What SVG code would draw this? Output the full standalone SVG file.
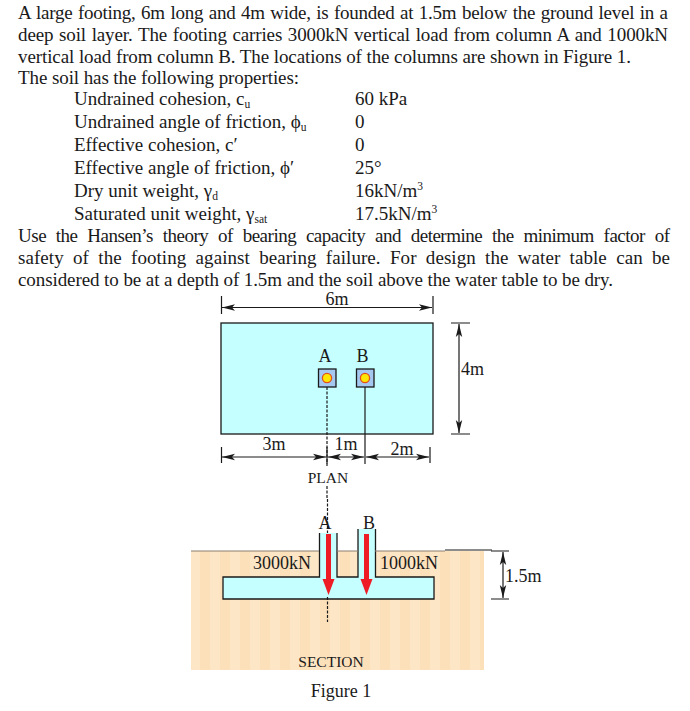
<svg xmlns="http://www.w3.org/2000/svg" width="690" height="711" viewBox="0 0 690 711">
<style>
text{font-family:"Liberation Serif","Times New Roman",serif;fill:#1a1a1a}
.b{font-size:19px}
.d{font-size:18px}
.s{font-size:15.5px}
.sub{font-size:11.500px}
.l{stroke:#1a1a1a;stroke-width:1.2;fill:none}
.o{stroke:#1a1a1a;stroke-width:1.3}
</style>
<defs>
<marker id="ah" markerUnits="userSpaceOnUse" markerWidth="14" markerHeight="8" refX="13" refY="4" orient="auto-start-reverse"><path d="M0 0.8L13 4L0 7.2L3 4Z" fill="#1a1a1a"/></marker>
<pattern id="soil" width="20" height="10" patternUnits="userSpaceOnUse"><rect width="20" height="10" fill="#fde6c6"/><rect width="10" height="10" fill="#fce0ba"/></pattern>
</defs>
<g id="problem-text" class="b">
<text x="18" y="19" word-spacing="1" textLength="650" lengthAdjust="spacing">A large footing, 6m long and 4m wide, is founded at 1.5m below the ground level in a</text>
<text x="18" y="41" word-spacing="1" textLength="650" lengthAdjust="spacing">deep soil layer. The footing carries 3000kN vertical load from column A and 1000kN</text>
<text x="18" y="63" textLength="613" lengthAdjust="spacing">vertical load from column B. The locations of the columns are shown in Figure 1.</text>
<text x="18" y="84" textLength="281" lengthAdjust="spacing">The soil has the following properties:</text>
<text x="18" y="242" word-spacing="5.500" textLength="652" lengthAdjust="spacing">Use the Hansen’s theory of bearing capacity and determine the minimum factor of</text>
<text x="18" y="264" word-spacing="4.500" textLength="652" lengthAdjust="spacing">safety of the footing against bearing failure. For design the water table can be</text>
<text x="18" y="286" textLength="595" lengthAdjust="spacing">considered to be at a depth of 1.5m and the soil above the water table to be dry.</text>
</g>
<g id="properties" class="b">
<text x="74" y="105">Undrained cohesion, c<tspan class="sub" dy="3">u</tspan></text>
<text x="74" y="128">Undrained angle of friction, ϕ<tspan class="sub" dy="3">u</tspan></text>
<text x="74" y="151">Effective cohesion, c′</text>
<text x="74" y="174">Effective angle of friction, ϕ′</text>
<text x="74" y="197">Dry unit weight, γ<tspan class="sub" dy="3">d</tspan></text>
<text x="74" y="220">Saturated unit weight, γ<tspan class="sub" dy="3">sat</tspan></text>
<text x="355" y="105">60 kPa</text>
<text x="355" y="128">0</text>
<text x="355" y="151">0</text>
<text x="355" y="174">25°</text>
<text x="355" y="197">16kN/m<tspan class="sub" dy="-7">3</tspan></text>
<text x="355" y="220">17.5kN/m<tspan class="sub" dy="-7">3</tspan></text>
</g>
<g id="plan-footing"><rect x="221" y="323" width="212" height="111" fill="#c6ffff" stroke="#1a1a1a" stroke-width="1.3"/></g>
<g id="column-a-plan">
<rect x="318.500" y="369" width="17.500" height="18" fill="#a5c8f0" stroke="#1a1a1a" stroke-width="1.3"/>
<circle cx="327" cy="378" r="4.600" fill="#ffe600" stroke="#e2501c" stroke-width="1.300"/>
<text class="d" x="325" y="362" text-anchor="middle">A</text>
</g>
<g id="column-b-plan">
<rect x="356.500" y="369" width="17.500" height="18" fill="#a5c8f0" stroke="#1a1a1a" stroke-width="1.3"/>
<circle cx="365" cy="378" r="4.600" fill="#ffe600" stroke="#e2501c" stroke-width="1.300"/>
<text class="d" x="362.500" y="362" text-anchor="middle">B</text>
</g>
<g id="section-soil"><rect x="191" y="551" width="293" height="119" fill="url(#soil)"/></g>
<g id="section-footing">
<path d="M223 577H319.500V533H337V577H358V529H375.500V577H434V599H223Z" fill="#c6ffff"/>
<path class="o" fill="none" d="M319.500 533V577H223V599H434V577H375.500V529M358 529V577H337V533"/>
</g>
<g id="connectors">
<path class="l" stroke-dasharray="3 1.500" d="M327 387V466M327 486V499M327.500 499V533M327.500 597V622"/>
<path class="l" d="M365 387V464"/>
<path stroke="#8a7f70" stroke-width="1" d="M191 551H319M337 551H358M375 551H445"/>
<path stroke="#1a1a1a" stroke-width="1.200" d="M445 550H492"/>
<path class="l" d="M221.500 296V314M433 296V314M221.500 447V463M430 447V463M327 447V464M451 323H470M451 434H470M491 551H509M491 599H509"/>
<path class="l" marker-start="url(#ah)" marker-end="url(#ah)" d="M222 307.500H432"/>
<path class="l" marker-start="url(#ah)" marker-end="url(#ah)" d="M459 324V433"/>
<path class="l" marker-start="url(#ah)" marker-end="url(#ah)" d="M222 457H326"/>
<path class="l" marker-start="url(#ah)" marker-end="url(#ah)" d="M328 457H364"/>
<path class="l" marker-start="url(#ah)" marker-end="url(#ah)" d="M366 457H429"/>
<path class="l" marker-start="url(#ah)" marker-end="url(#ah)" d="M503 552V598"/>
<path fill="#ee1c25" d="M326 534H331V579H334.500L328.500 595L322.500 579H326Z"/>
<path fill="#ee1c25" d="M364 534H369V579H372.500L366.500 595L360.500 579H364Z"/>
</g>
<g id="labels" class="d">
<text x="337" y="305" text-anchor="middle">6m</text>
<text x="461" y="375">4m</text>
<text x="274" y="450" text-anchor="middle">3m</text>
<text x="346" y="450" text-anchor="middle">1m</text>
<text x="402" y="455" text-anchor="middle">2m</text>
<text class="s" x="328" y="483" text-anchor="middle">PLAN</text>
<text x="325" y="529" text-anchor="middle">A</text>
<text x="369" y="529" text-anchor="middle">B</text>
<text x="253" y="569">3000kN</text>
<text x="380" y="569">1000kN</text>
<text x="505" y="582">1.5m</text>
<text class="s" x="331" y="667" text-anchor="middle">SECTION</text>
<text x="341" y="697" text-anchor="middle">Figure 1</text>
</g>
</svg>
